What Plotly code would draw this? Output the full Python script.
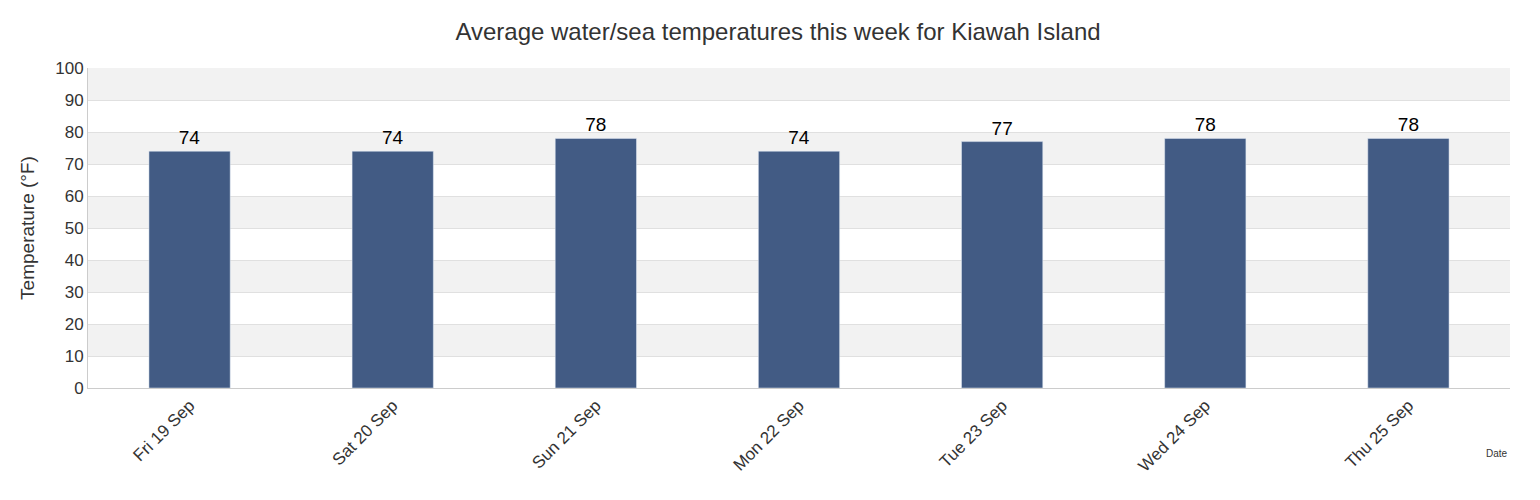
import plotly.graph_objects as go

days = ["Fri 19 Sep", "Sat 20 Sep", "Sun 21 Sep", "Mon 22 Sep", "Tue 23 Sep", "Wed 24 Sep", "Thu 25 Sep"]
temps = [74, 74, 78, 74, 77, 78, 78]
yticks = list(range(0, 101, 10))

fig = go.Figure(go.Bar(x=days, y=temps, marker_color="#425b84", width=0.4,
                       text=[str(t) for t in temps], textposition="outside",
                       textfont=dict(size=19, color="#000"), cliponaxis=False))
shapes = []
for lo in range(10, 100, 20):
    shapes.append(dict(type="rect", xref="paper", yref="y", x0=0, x1=1, y0=lo, y1=lo + 10,
                       fillcolor="#f2f2f2", line_width=0, layer="below"))
fig.update_layout(
    width=1540, height=500, plot_bgcolor="white", paper_bgcolor="white",
    font=dict(family="Arial, Liberation Sans, sans-serif", color="#333"),
    title=dict(text="Average water/sea temperatures this week for Kiawah Island", x=0.5, y=0.97,
               xanchor="center", font=dict(size=24, color="#333")),
    margin=dict(l=80, r=38, t=60, b=120, autoexpand=False), shapes=shapes, showlegend=False,
    annotations=[dict(text="Date", xref="paper", yref="paper", x=1, y=-0.18, xanchor="right",
                      yanchor="top", showarrow=False, font=dict(size=10, color="#333"))],
)
fig.update_yaxes(range=[0, 100], tickvals=yticks, title=dict(text="Temperature (°F)", font=dict(size=19)),
                 tickfont=dict(size=17), gridcolor="#e0e0e0", zeroline=False,
                 showline=True, linecolor="#ccc", automargin=False)
fig.update_xaxes(tickangle=-45, tickfont=dict(size=17), showline=True, linecolor="#ccc", ticks="",
                 automargin=False)
fig.write_html("out.html")
